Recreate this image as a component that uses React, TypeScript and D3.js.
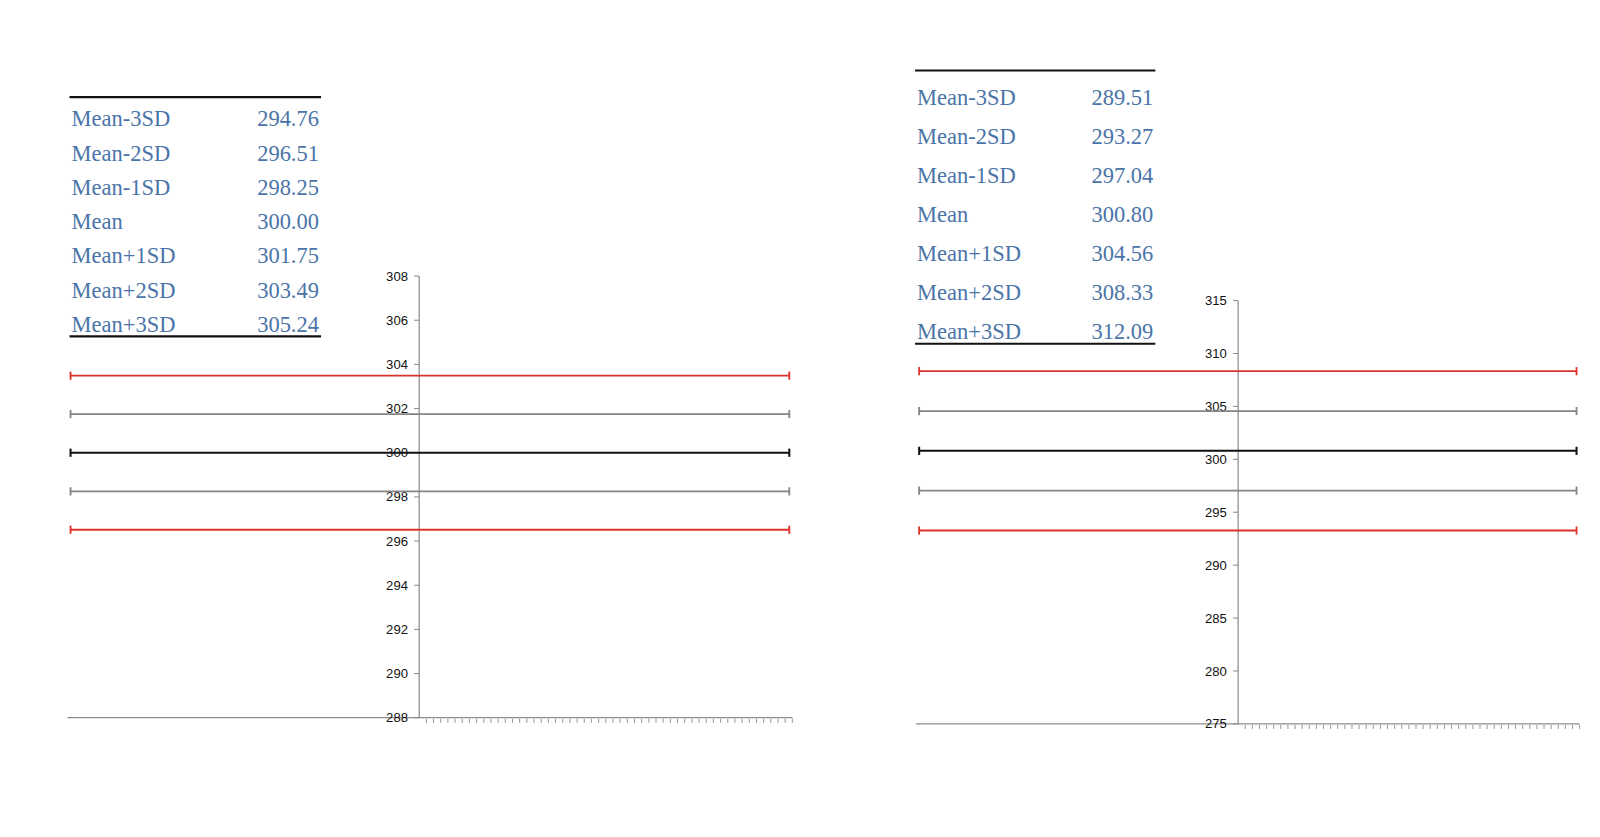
import * as d3 from "d3"

// Left panel
const leftLabels = ["Mean-3SD", "Mean-2SD", "Mean-1SD", "Mean", "Mean+1SD", "Mean+2SD", "Mean+3SD"]
const leftValues = [294.76, 296.51, 298.25, 300.0, 301.75, 303.49, 305.24]
const leftTicks = [288, 290, 292, 294, 296, 298, 300, 302, 304, 306, 308]
const leftRuns = d3.range(1, 53).map(String)

// Right panel
const rightLabels = ["Mean-3SD", "Mean-2SD", "Mean-1SD", "Mean", "Mean+1SD", "Mean+2SD", "Mean+3SD"]
const rightValues = [289.51, 293.27, 297.04, 300.8, 304.56, 308.33, 312.09]
const rightTicks = [275, 280, 285, 290, 295, 300, 305, 310, 315]
const rightRuns = d3.range(1, 49).map(String)

// which rows of the table become control lines, and how they are drawn
const lineRows = [1, 2, 3, 4, 5]
const lineColors = ["#e0312b", "#858585", "#111111", "#858585", "#e0312b"]

const TEXT_BLUE = "#4a74a8"

interface PanelProps {
  labels: string[]
  values: number[]
  ticks: number[]
  runs: string[]
  // table
  tableX: number
  tableW: number
  tableTop: number
  rowStart: number
  rowStep: number
  // chart
  axisX: number
  axisRight: number
  baseLeft: number
  lineLeft: number
  lineRight: number
  yTop: number
  yBottom: number
}

function Panel(p: PanelProps) {
  const y = d3.scaleLinear()
    .domain([p.ticks[0], p.ticks[p.ticks.length - 1]])
    .range([p.yBottom, p.yTop])

  const x = d3.scaleBand<string>()
    .domain(p.runs)
    .range([p.axisX, p.axisRight])

  const tableBottom = p.rowStart + p.rowStep * (p.labels.length - 1) + 12

  return (
    <g>
      {/* x axis base line */}
      <line x1={p.baseLeft} x2={p.axisRight} y1={p.yBottom} y2={p.yBottom} stroke="#8c8c8c" strokeWidth={1.2} />
      {p.runs.map((r) => (
        <line key={r}
          x1={(x(r) ?? 0) + x.bandwidth()} x2={(x(r) ?? 0) + x.bandwidth()}
          y1={p.yBottom + 1} y2={p.yBottom + 5}
          stroke="#8c8c8c" strokeWidth={0.9} />
      ))}

      {/* y axis */}
      <line x1={p.axisX} x2={p.axisX} y1={p.yTop} y2={p.yBottom} stroke="#8c8c8c" strokeWidth={1.2} />
      {p.ticks.map((t) => (
        <g key={t} transform={`translate(0,${y(t)})`}>
          <line x1={p.axisX - 5} x2={p.axisX} stroke="#8c8c8c" strokeWidth={1} />
          <text x={p.axisX - 11} dy="0.35em" textAnchor="end"
            fontFamily="Liberation Sans, Arial, sans-serif" fontSize={12.8} fill="#111">
            {t}
          </text>
        </g>
      ))}

      {/* control lines */}
      {lineRows.map((ri, i) => {
        const yy = y(p.values[ri])
        return (
          <g key={ri} stroke={lineColors[i]} strokeWidth={i === 2 ? 2 : 1.8}>
            <line x1={p.lineLeft} x2={p.lineRight} y1={yy} y2={yy} />
            <line x1={p.lineLeft} x2={p.lineLeft} y1={yy - 4} y2={yy + 4} />
            <line x1={p.lineRight} x2={p.lineRight} y1={yy - 4} y2={yy + 4} />
          </g>
        )
      })}

      {/* stats table */}
      <line x1={p.tableX - 2} x2={p.tableX + p.tableW} y1={p.tableTop} y2={p.tableTop} stroke="#111" strokeWidth={2} />
      {p.labels.map((l, i) => (
        <g key={l} fontFamily="Liberation Serif, Times New Roman, serif" fontSize={22} fill={TEXT_BLUE}>
          <text x={p.tableX} y={p.rowStart + i * p.rowStep} dy="0.35em">{l}</text>
          <text x={p.tableX + p.tableW - 2} y={p.rowStart + i * p.rowStep} dy="0.35em" textAnchor="end">
            {p.values[i].toFixed(2)}
          </text>
        </g>
      ))}
      <line x1={p.tableX - 2} x2={p.tableX + p.tableW} y1={tableBottom} y2={tableBottom} stroke="#111" strokeWidth={2} />
    </g>
  )
}

export default function App() {
  return (
    <svg width={1600} height={837} style={{ position: "absolute", left: 0, top: 0, background: "#fff" }}>
      <g transform="scale(1.0224)">
        <Panel
          labels={leftLabels} values={leftValues} ticks={leftTicks} runs={leftRuns}
          tableX={70} tableW={244} tableTop={95} rowStart={116} rowStep={33.5}
          axisX={410} axisRight={775} baseLeft={66} lineLeft={69} lineRight={772}
          yTop={270} yBottom={702}
        />
        <Panel
          labels={rightLabels} values={rightValues} ticks={rightTicks} runs={rightRuns}
          tableX={897} tableW={233} tableTop={69} rowStart={95} rowStep={38.2}
          axisX={1211} axisRight={1545} baseLeft={896} lineLeft={899} lineRight={1542}
          yTop={294} yBottom={708}
        />
      </g>
    </svg>
  )
}
